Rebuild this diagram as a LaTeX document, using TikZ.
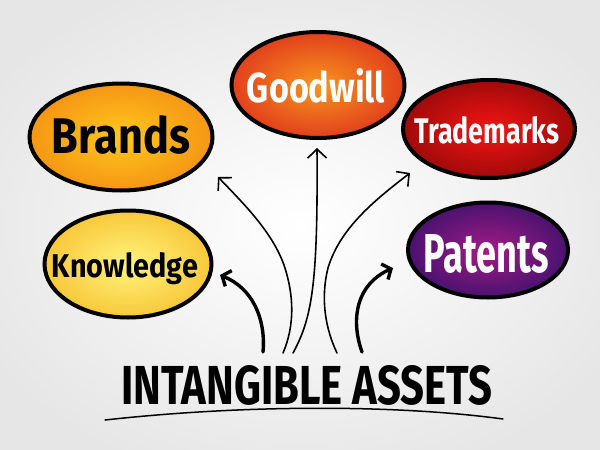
\documentclass[tikz,border=0pt]{standalone}
\usepackage{graphicx}
\usepackage{fontspec}
\setmainfont{Fira Sans}
\usetikzlibrary{arrows.meta,shapes.geometric}
\definecolor{bgedge}{HTML}{E6E6E6}
\begin{document}
\begin{tikzpicture}[x=1pt,y=-1pt,
  blob/.style={ellipse,draw=black,line width=4pt,inner sep=0pt},
  lbl/.style={anchor=base,inner sep=0pt},
  thinarrow/.style={line width=1.6pt,line cap=round,-{Straight Barb[length=9pt,width=19pt]}},
  boldarrow/.style={line width=3.4pt,line cap=round,-{Straight Barb[length=7pt,width=17pt]}}]
\useasboundingbox (0,0) rectangle (600,450);
\shade[inner color=white,outer color=bgedge] (-60,-40) rectangle (660,490);

% ellipses
\node[blob,minimum width=183pt,minimum height=107pt,inner color={rgb,255:red,255;green,200;blue,30},outer color={rgb,255:red,245;green,150;blue,20}] (brands) at (121,137) {};
\node[blob,minimum width=173pt,minimum height=106pt,inner color={rgb,255:red,248;green,150;blue,30},outer color={rgb,255:red,226;green,64;blue,28}] (goodwill) at (318,85) {};
\node[blob,minimum width=172pt,minimum height=98pt,inner color={rgb,255:red,245;green,20;blue,20},outer color={rgb,255:red,160;green,10;blue,10}] (trademarks) at (489,129) {};
\node[blob,minimum width=167pt,minimum height=107pt,inner color={rgb,255:red,255;green,244;blue,125},outer color={rgb,255:red,248;green,200;blue,58}] (knowledge) at (128,264) {};
\node[blob,minimum width=160pt,minimum height=95pt,inner color={rgb,255:red,162;green,28;blue,132},outer color={rgb,255:red,74;green,18;blue,112}] (patents) at (488,250) {};

% labels
\node[lbl] (brandsT) at (121,153) {\resizebox{138pt}{38pt}{\bfseries Brands}};
\node[lbl,text=white] (goodwillT) at (316,102) {\resizebox{138pt}{34pt}{\bfseries Goodwill}};
\node[lbl,text=white] (trademarksT) at (487,143) {\resizebox{145pt}{27pt}{\bfseries Trademarks}};
\node[lbl] (knowledgeT) at (125,277) {\resizebox{146pt}{25pt}{\bfseries Knowledge}};
\node[lbl,text=white] (patentsT) at (486,272) {\resizebox{125pt}{38pt}{\bfseries Patents}};
\node[lbl] (title) at (307,404) {\resizebox{371pt}{39pt}{\bfseries INTANGIBLE ASSETS}};

% underline
\coordinate (u1) at (105,420);
\coordinate (u2) at (503,419);
\draw[line width=1.5pt,line cap=round] (u1) .. controls (250,404) and (400,405) .. (u2);

% arrow ends
\coordinate (s1) at (263,352);
\coordinate (s2) at (283,353);
\coordinate (s3) at (293,353);
\coordinate (s4) at (337,353);
\coordinate (s5) at (362,352);
\coordinate (t1) at (220,275);
\coordinate (t2) at (218,177);
\coordinate (t3) at (317,148);
\coordinate (t4) at (410,173);
\coordinate (t5) at (393,268);

\draw[boldarrow] (s1) .. controls (266,318) and (252,288) .. (t1);
\draw[thinarrow] (s2) .. controls (295,325) and (294,295) .. (284,265) .. controls (272,232) and (245,205) .. (t2);
\draw[thinarrow] (s3) .. controls (312,318) and (318,285) .. (t3);
\draw[thinarrow] (s4) .. controls (326,330) and (320,300) .. (328,268) .. controls (340,228) and (375,200) .. (t4);
\draw[boldarrow] (s5) .. controls (350,318) and (357,284) .. (t5);
\end{tikzpicture}
\end{document}
